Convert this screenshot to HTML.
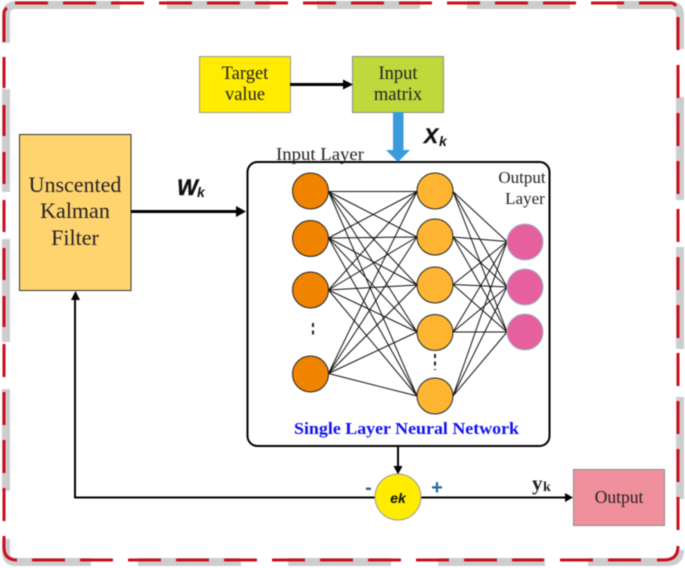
<!DOCTYPE html>
<html>
<head>
<meta charset="utf-8">
<style>
html,body{margin:0;padding:0;background:#fff;width:685px;height:568px;overflow:hidden}
svg{display:block;filter:blur(0.4px)}
.s{font-family:"Liberation Serif",serif;fill:#222}
.a{font-family:"Liberation Sans",sans-serif;font-weight:bold;font-style:italic;fill:#111}
</style>
</head>
<body>
<svg width="685" height="568" viewBox="0 0 685 568" xmlns="http://www.w3.org/2000/svg">

<!-- grey dashes -->
<g fill="none" stroke="#cdcdcd" stroke-width="8">
<path d="M6 43V15Q6 5 16 5H120"/>
<path d="M167 5H270M317 5H420M467 5H570"/>
<path d="M617 5H670Q680 5 680 15V49"/>
<path d="M680 97V200M680 247V349M680 397V499"/>
<path d="M6 89V192M6 239V342M6 389V491"/>
<path d="M6 539V552Q6 562 16 562H91"/>
<path d="M138 562H241M288 562H391M438 562H545"/>
<path d="M588 562H668Q680 562 680 550"/>
</g>

<!-- red dashes -->
<g fill="none" stroke="#c8101e" stroke-width="3">
<path d="M4 42V14Q4 10 7 8"/>
<path d="M15 3H48M63 3H96M111 3H144M159 3H192M207 3H240M255 3H288M303 3H336M351 3H384M399 3H432M447 3H480M495 3H528M543 3H576M591 3H624M639 3H671Q674 3 676 6"/>
<path d="M678 17V50M678 65V98M678 113V146M678 161V194M678 209V242M678 257V290M678 305V338M678 353V386M678 401V434M678 449V482M678 497V530"/>
<path d="M678 546Q678 560 664 560H657M641 560H608M593 560H560M544 560H512M497 560H464M449 560H416M401 560H368M353 560H320M305 560H272M257 560H224M209 560H176M161 560H128M113 560H80M65 560H32"/>
<path d="M17 560Q4 560 4 547V536"/>
<path d="M4 521V488M4 473V440M4 425V392M4 377V344M4 327V296M4 280V248M4 232V200M4 184V152M4 136V105M4 88V57"/>
</g>

<!-- top boxes -->
<rect x="199.5" y="56.5" width="91" height="56" fill="#ffec00" stroke="#999" stroke-width="1"/>
<text class="s" x="245" y="79" font-size="18.500" text-anchor="middle">Target</text>
<text class="s" x="245" y="100" font-size="18.500" text-anchor="middle">value</text>
<rect x="352.5" y="56.5" width="91" height="56" fill="#bfd83c" stroke="#8b8b8b" stroke-width="1"/>
<text class="s" x="398" y="79" font-size="18.500" text-anchor="middle">Input</text>
<text class="s" x="398" y="100" font-size="18.500" text-anchor="middle">matrix</text>
<path d="M290 84.5H345" stroke="#000" stroke-width="3" fill="none"/>
<path d="M343 79.500L353 84.500L343 89.500Z" fill="#000"/>

<!-- UKF -->
<rect x="19.5" y="134.5" width="111.5" height="156" fill="#ffd36e" stroke="#333" stroke-width="1"/>
<text class="s" x="75" y="192" font-size="22" text-anchor="middle">Unscented</text>
<text class="s" x="75" y="218" font-size="22" text-anchor="middle">Kalman</text>
<text class="s" x="75" y="245" font-size="22" text-anchor="middle">Filter</text>
<path d="M131 211.5H238" stroke="#000" stroke-width="3" fill="none"/>
<path d="M236 206L246 211.5L236 217Z" fill="#000"/>
<text class="a" x="177" y="195" font-size="22" stroke="#111" stroke-width="0.4">W</text>
<text class="a" x="197" y="197" font-size="14">k</text>

<!-- network box -->
<rect x="247.5" y="162" width="302" height="284" rx="10" ry="10" fill="#fff" stroke="#000" stroke-width="2"/>
<text class="s" x="276" y="160" font-size="18" textLength="88" lengthAdjust="spacingAndGlyphs">Input Layer</text>
<text class="s" x="522" y="183" font-size="17" text-anchor="middle">Output</text>
<text class="s" x="525" y="204" font-size="17" text-anchor="middle">Layer</text>

<!-- blue arrow -->
<path d="M393 112H403.500V150H410L398 162L386 150H393Z" fill="#3a9bdc"/>
<text class="a" x="424" y="143" font-size="21" stroke="#111" stroke-width="0.4">X</text>
<text class="a" x="439" y="146" font-size="14">k</text>

<!-- connections -->
<g fill="none" stroke="#111" stroke-width="1">
<path d="M328.5 191.500L417 191.500M328.5 191.500L417 237M328.5 191.500L417 285M328.5 191.500L417 332M328.5 191.500L417 396
M328.5 238L417 191.500M328.5 238L417 237M328.5 238L417 285M328.5 238L417 332M328.5 238L417 396
M328.5 290L417 191.500M328.5 290L417 237M328.5 290L417 285M328.5 290L417 332M328.5 290L417 396
M328.5 373.500L417 191.500M328.5 373.500L417 237M328.5 373.500L417 285M328.5 373.500L417 332M328.5 373.500L417 396
M453 191.500L507 241.500M453 191.500L507 287M453 191.500L507 332
M453 237L507 241.500M453 237L507 287M453 237L507 332
M453 284.500L507 241.500M453 284.500L507 287M453 284.500L507 332
M453 332L507 241.500M453 332L507 287M453 332L507 332
M453 396L507 241.500M453 396L507 287M453 396L507 332"/>
</g>

<!-- input neurons -->
<g fill="#f08300" stroke="#222" stroke-width="1">
<circle cx="310.5" cy="191" r="18"/>
<circle cx="310.5" cy="238.5" r="18"/>
<circle cx="310.5" cy="290" r="18"/>
<circle cx="310.5" cy="374" r="18"/>
</g>
<!-- hidden neurons -->
<g fill="#fdb532" stroke="#222" stroke-width="1">
<circle cx="435" cy="191" r="18"/>
<circle cx="435" cy="237" r="18"/>
<circle cx="435" cy="285" r="18"/>
<circle cx="435" cy="332.5" r="18"/>
<circle cx="435" cy="396" r="18"/>
</g>
<!-- output neurons -->
<g fill="#e6609e" stroke="#9db4c6" stroke-width="1">
<circle cx="525" cy="242" r="18"/>
<circle cx="525" cy="287" r="18"/>
<circle cx="525" cy="332" r="18"/>
</g>
<path d="M313 323V338" stroke="#222" stroke-width="2" stroke-dasharray="4 3.5" fill="none"/>
<path d="M435 354V370" stroke="#222" stroke-width="2" stroke-dasharray="4 3.5" fill="none"/>

<text x="294" y="434" font-family="Liberation Serif, serif" font-weight="bold" font-size="17" fill="#1010ee" textLength="225" lengthAdjust="spacingAndGlyphs">Single Layer Neural Network</text>

<!-- feedback -->
<path d="M398 446V468" stroke="#000" stroke-width="2" fill="none"/>
<path d="M393.500 466L398 474.500L402.500 466Z" fill="#000"/>
<path d="M375 497.5H75V298" stroke="#000" stroke-width="2" fill="none"/>
<path d="M71 300L75.500 291L80 300Z" fill="#000"/>
<path d="M421 497.5H566" stroke="#000" stroke-width="2" fill="none"/>
<path d="M565 493L573 497.5L565 502Z" fill="#000"/>
<circle cx="398" cy="497" r="23" fill="#ffec00" stroke="#999" stroke-width="1"/>
<text class="a" x="398" y="503" font-size="14" text-anchor="middle">ek</text>
<text x="368.500" y="494" font-family="Liberation Sans, sans-serif" font-weight="bold" font-size="20" fill="#1f6a9e" text-anchor="middle">-</text>
<text x="437" y="494" font-family="Liberation Sans, sans-serif" font-weight="bold" font-size="20" fill="#1f6a9e" text-anchor="middle">+</text>
<text x="532" y="490" font-family="Liberation Serif, serif" font-weight="bold" font-size="21" fill="#222">y</text>
<text x="543" y="491" font-family="Liberation Serif, serif" font-weight="bold" font-size="14" fill="#222">k</text>

<!-- output box -->
<rect x="573.5" y="469.5" width="91" height="56" fill="#f0909c" stroke="#8b8b8b" stroke-width="1"/>
<text class="s" x="619" y="503" font-size="17.500" text-anchor="middle">Output</text>
</svg>
</body>
</html>
